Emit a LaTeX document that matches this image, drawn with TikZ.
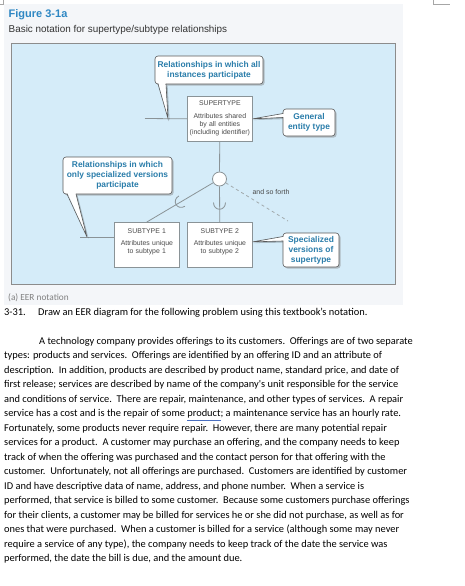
\documentclass[tikz,border=0pt]{standalone}
\usepackage{fontspec}
\setmainfont{Carlito}
\newfontfamily\figfont{Liberation Sans}
\usetikzlibrary{shadows}
\definecolor{panelbg}{HTML}{F4F6F9}
\definecolor{figblue}{HTML}{D5ECF9}
\definecolor{notetext}{HTML}{2A7DAA}
\definecolor{titleblue}{HTML}{2E87C3}
\definecolor{linegray}{HTML}{8A9397}
\definecolor{boxtext}{HTML}{4A4A4A}
\definecolor{wordline}{HTML}{4A6FC0}

\begin{document}
\begin{tikzpicture}
            [x=1pt, y=-1pt,
            % every node/.style={font=\figfont},
            entbox/.style={draw=linegray, fill=white, line width=0.7pt, inner sep=0pt,
                align=center, text width=65pt, text=boxtext,
                font=\figfont\fontsize{6.9}{8.2}\selectfont},
            bubble/.style={draw=black!65, fill=white, rounded corners=3pt, line width=0.6pt,
                align=center, inner sep=0pt, text=notetext,
                font=\figfont\bfseries\fontsize{8.4}{9.9}\selectfont,
                drop shadow={shadow xshift=1.6pt, shadow yshift=-1.6pt, opacity=.45}},
            tailshade/.style={fill=black, opacity=.22},
            tail/.style={draw=black!65, line width=0.6pt},
            link/.style={draw=linegray, line width=0.8pt},
            body/.style={anchor=base west, inner sep=0pt, text=black,
                font=\fontsize{10.4}{14.5}\selectfont}]
            \useasboundingbox (0,0) rectangle (465,586);
            \fill [white] (0,0) rectangle (465,586);
            % page corner marks
            \draw [black!35, line width=0.6pt] (0,4.5) -- (3,4.5) -- (3,0);
            \draw [black!35, line width=0.6pt] (433,0) -- (433,4) -- (450,4);
            % figure panel
            \fill [panelbg] (4,4) rectangle (403,305);
            \filldraw [fill=figblue, draw=black!45, line width=0.7pt] (11,43) rectangle (395,284);
            \node [anchor=base west, inner sep=0pt, text=titleblue,
                font=\figfont\bfseries\fontsize{11}{13}\selectfont] (figno) at (8.5,17.3) {Figure 3-1a};
            \node [anchor=base west, inner sep=0pt, text=black!80,
                font=\figfont\fontsize{9.9}{12}\selectfont] (figcap) at (8.5,32.3) {Basic notation for supertype/subtype relationships};
            \node [anchor=base west, inner sep=0pt, text=black!50,
                font=\fontsize{9.3}{11}\selectfont] (caption) at (8,300.5) {(a) EER notation};
            % entity types
            \node [entbox, anchor=north west, text height=9.5pt, text depth=35.5pt] (super) at (187,96)
                {SUPERTYPE\\[4.5pt]Attributes shared\\by all entities\\(including identifier)};
            \node [entbox, anchor=north west, text height=11.2pt, text depth=33.8pt] (sub1) at (114,222)
                {SUBTYPE 1\\[3.5pt]Attributes unique\\to subtype 1};
            \node [entbox, anchor=north west, text height=11.2pt, text depth=33.8pt] (sub2) at (187,222)
                {SUBTYPE 2\\[3.5pt]Attributes unique\\to subtype 2};
            \node [circle, draw=linegray, fill=white, line width=0.8pt, minimum size=14pt, inner sep=0pt] (isa) at (219.5,179) {};
            \coordinate (allEnd) at (145,118.5);
            \coordinate (allTip) at (168,118.5);
            \coordinate (specEnd) at (80,237);
            \coordinate (specTip) at (87,237);
            \coordinate (forth) at (288,221);
            \draw [link] (allEnd) -- (super.west);
            \draw [link] (specEnd) -- (specEnd -| sub1.west);
            \draw [link] (super) -- (isa);
            \draw [link] (isa) -- (sub1.north);
            \draw [link] (isa) -- (sub2);
            \draw [link, draw=linegray!80, dashed] (isa) -- (forth);
            % subset symbols
            \begin{scope}[shift={(219.5,207)}]
                \draw [link] (-6,-4.5) .. controls (-6,4.5) and (6,4.5) .. (6,-4.5);
            \end{scope}
            \begin{scope}[shift={(178,203.4)}, rotate=-59.5]
                \draw [link] (-6,-4.5) .. controls (-6,4.5) and (6,4.5) .. (6,-4.5);
            \end{scope}
            \node [text=boxtext, font=\figfont\fontsize{7}{8}\selectfont] (forthText) at (271,192) {and so forth};
            % callout shadows
            \begin{scope}[shift={(1.6,1.6)}]
                \fill [tailshade] (158,84) -- (168,118.5) -- (166,84) -- cycle;
                \fill [tailshade] (283,113.5) -- (252,118.5) -- (283,117.5) -- cycle;
                \fill [tailshade] (67,194) -- (87,237) -- (76,194) -- cycle;
                \fill [tailshade] (283,236.5) -- (252,241.5) -- (283,241) -- cycle;
            \end{scope}
            % callouts
            \node [bubble, minimum width=108pt, minimum height=28pt] (allRel) at (209,70)
                {Relationships in which all\\instances participate};
            \node [bubble, minimum width=52pt, minimum height=27pt] (general) at (309,122.5)
                {General\\entity type};
            \node [bubble, minimum width=109pt, minimum height=37pt] (specRel) at (117.5,175.5)
                {Relationships in which\\only specialized versions\\participate};
            \node [bubble, minimum width=56pt, minimum height=34pt] (special) at (311,250)
                {Specialized\\versions of\\supertype};
            \fill [white] (158.4,83) -- (allTip) -- (165.6,83) -- cycle;
            \draw [tail] (158,84) -- (allTip) -- (166,84);
            \fill [white] (284,113.8) -- (super.east) -- (284,117.2) -- cycle;
            \draw [tail] (283,113.5) -- (super.east) -- (283,117.5);
            \fill [white] (67.4,193) -- (specTip) -- (75.6,193) -- cycle;
            \draw [tail] (67,194) -- (specTip) -- (76,194);
            \fill [white] (284,236.8) -- ([yshift=3pt]sub2.east) -- (284,240.7) -- cycle;
            \draw [tail] (283,236.5) -- ([yshift=3pt]sub2.east) -- (283,241);
            % exercise text
            \node [body] (qnum) at (4,315.4) {3-31.};
            \node [body] (qtext) at (38,315.4) {Draw an EER diagram for the following problem using this textbook's notation.};
            \node [body] (para1) at (39,344.4) {A technology company provides offerings to its customers.\ \ Offerings are of two separate};
            \node [body] (para2) at (4,358.9) {types: products and services.\ \ Offerings are identified by an offering ID and an attribute of};
            \node [body] (para3) at (4,373.4) {description.\ \ In addition, products are described by product name, standard price, and date of};
            \node [body] (para4) at (4,387.9) {first release; services are described by name of the company\textquotesingle s unit responsible for the service};
            \node [body] (para5) at (4,402.4) {and conditions of service.\ \ There are repair, maintenance, and other types of services.\ \ A repair};
            \node [body] (para6) at (4,416.9) {service has a cost and is the repair of some {\color{wordline}\underline{{\color{black}product}}}; a maintenance service has an hourly rate.};
            \node [body] (para7) at (4,431.4) {Fortunately, some products never require repair.\ \ However, there are many potential repair};
            \node [body] (para8) at (4,445.9) {services for a product.\ \ A customer may purchase an offering, and the company needs to keep};
            \node [body] (para9) at (4,460.4) {track of when the offering was purchased and the contact person for that offering with the};
            \node [body] (para10) at (4,474.9) {customer.\ \ Unfortunately, not all offerings are purchased.\ \ Customers are identified by customer};
            \node [body] (para11) at (4,489.4) {ID and have descriptive data of name, address, and phone number.\ \ When a service is};
            \node [body] (para12) at (4,503.9) {performed, that service is billed to some customer.\ \ Because some customers purchase offerings};
            \node [body] (para13) at (4,518.4) {for their clients, a customer may be billed for services he or she did not purchase, as well as for};
            \node [body] (para14) at (4,532.9) {ones that were purchased.\ \ When a customer is billed for a service (although some may never};
            \node [body] (para15) at (4,547.4) {require a service of any type), the company needs to keep track of the date the service was};
            \node [body] (para16) at (4,561.9) {performed, the date the bill is due, and the amount due.};
            \end{tikzpicture}
\end{document}
